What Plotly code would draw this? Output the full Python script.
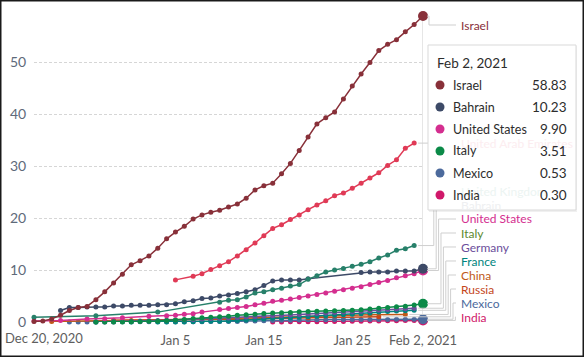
import plotly.graph_objects as go
import pandas as pd

# ---------------- data (doses per 100 people) ----------------
israel_start = "2020-12-20"
israel = [0.1, 0.2, 0.6, 1.3, 2.2, 2.8, 3.0, 4.3, 5.8, 7.5, 9.2, 11.0,
          11.8, 12.7, 14.2, 16.0, 17.3, 18.4, 19.8, 20.6, 21.1, 21.5, 22.1, 22.7,
          23.8, 25.4, 26.2, 26.7, 28.5, 30.5, 33.0, 35.6, 38.1, 39.3, 40.4, 42.9,
          45.4, 47.7, 49.9, 52.2, 53.4, 54.3, 55.8, 57.2, 58.83]

uae_start = "2021-01-05"
uae = [8.1, None, 8.8, 9.3, 10.1, 10.8, 11.6, 12.7, 13.9, 15.2, 16.6, 18.0, 18.7,
       19.7, 20.6, 21.6, 22.5, 23.3, 24.3, 24.8, 25.7, 26.7, 27.7, 28.7, 30.1,
       31.2, 33.4, 34.4]

uk_start = "2020-12-20"
uk = [0.9, None, None, None, None, None, None, 1.2, None, None, None, None, None, None,
      1.9, None, None, None, None, None, None, 3.8, 4.2, 4.3, 4.8, 5.6, 5.8, 6.2,
      6.5, 6.9, 7.2, 8.2, 8.9, 9.6, 10.0, 10.3, 10.7, 11.1, 11.6, 12.3, 12.9, 13.8,
      14.1, 14.7]

bahrain_start = "2020-12-23"
bahrain = [2.2, 2.8, 2.8, 2.9, 2.9, 2.9, 3.1, 3.1, 3.2,
           3.2, 3.2, 3.3, 3.3, 3.5, 3.9, 4.1, 4.5, 4.6, 5.0, 5.2, 5.5, 5.8, 6.2,
           7.0, 7.9, 8.1, 8.1, 8.1, 8.3, None, None, None, None, None,
           9.5, 9.6, 9.6, 9.6, 9.8, 9.8, 9.8, 10.23]

us_start = "2020-12-20"
us = [0.17, None, None, 0.3, None, None, 0.58, None, 0.64, None, 0.8, None,
      None, 1.1, None, 1.2, 1.3, 1.5, 1.6, 1.9, None, 2.4, 2.6, 2.8, 3.0, 3.3,
      3.6, 4.0, 4.2, 4.4, 4.7, 5.0, 5.3, 5.6, 5.9, 6.2, 6.5, 6.8, 7.2, 7.6, 8.0,
      8.5, 8.9, 9.3, 9.9]

italy_start = "2020-12-27"
italy = [0.01, 0.01, 0.02, 0.02, 0.05,
         0.08, 0.15, 0.2, 0.3, 0.4, 0.5, 0.65, 0.8, 0.9, 1.0, 1.1, 1.3, 1.4, 1.5,
         1.65, 1.75, 1.8, 1.85, 1.95, 2.0, 2.05, 2.1, 2.15, 2.2, 2.25, 2.35, 2.5,
         2.65, 2.8, 2.95, 3.05, 3.25, 3.51]

germany_start = "2020-12-27"
germany = [0.03, 0.05, 0.1, 0.12, 0.16,
           0.2, 0.24, 0.28, 0.32, 0.38, 0.45, 0.5, 0.6, 0.65, 0.7, 0.75, 0.85, 0.95,
           1.0, 1.1, 1.2, 1.25, 1.35, 1.45, 1.55, 1.65, 1.75, 1.85, 1.9, 1.95, 2.05,
           2.15, 2.3, 2.4, 2.5, 2.55, 2.65]

france_start = "2020-12-27"
france = [0.0, None, None, None, 0.0,
          None, None, 0.0, 0.01, 0.01, 0.02, 0.07, 0.1, 0.13, 0.15, 0.2, 0.3, 0.4,
          0.5, 0.6, 0.7, 0.75, 0.8, 0.9, 1.0, 1.1, 1.2, 1.3, 1.4, 1.5, 1.6, 1.75,
          1.9, 2.0, 2.1, 2.15, 2.25]

china_dates = ["2020-12-22", "2020-12-31", "2021-01-09", "2021-01-20", "2021-01-27", "2021-01-31"]
china = [0.1, 0.3, 0.6, 1.05, 1.4, 1.45]

russia_dates = ["2020-12-29", "2021-01-13", "2021-01-20", "2021-01-28"]
russia = [0.34, 0.55, 0.8, 1.0]

mexico_start = "2020-12-24"
mexico = [0.0, 0.0, 0.01, 0.01, 0.02, 0.02, 0.03, 0.03,
          0.03, 0.03, 0.04, 0.04, 0.04, 0.05, 0.06, 0.07, 0.08, 0.09, 0.1, 0.12,
          0.17, 0.21, 0.25, 0.3, 0.32, 0.35, 0.38, 0.41, 0.43, 0.45, 0.46, 0.46,
          0.47, 0.48, 0.49, 0.5, 0.5, 0.51, 0.51, 0.52, 0.53]

india_start = "2021-01-16"
india = [0.01, 0.02, 0.03, 0.05, 0.06, 0.07, 0.08, 0.1, 0.12, 0.15, 0.15, 0.17,
         0.2, 0.22, 0.26, 0.27, 0.28, 0.30]

x_tick_dates = ["2020-12-20", "2021-01-05", "2021-01-15", "2021-01-25", "2021-02-02"]
x_tick_text = ["Dec 20, 2020", "Jan 5", "Jan 15", "Jan 25", "Feb 2, 2021"]
y_tick_vals = [0, 10, 20, 30, 40, 50]
hover_title = "Feb 2, 2021"

def daily(start, vals):
    return list(pd.date_range(start, periods=len(vals))), vals

series = [
    ("Israel", *daily(israel_start, israel), "#883039", "#883039"),
    ("United Arab Emirates", *daily(uae_start, uae), "#e03a56", "#e03a56"),
    ("United Kingdom", *daily(uk_start, uk), "#27806a", "#27806a"),
    ("Bahrain", *daily(bahrain_start, bahrain), "#3d4a67", "#3d4a67"),
    ("United States", *daily(us_start, us), "#d42e8f", "#d42e8f"),
    ("Italy", *daily(italy_start, italy), "#0b8a48", "#5c8a30"),
    ("Germany", *daily(germany_start, germany), "#6b4e9b", "#6b4e9b"),
    ("France", *daily(france_start, france), "#00847e", "#00847e"),
    ("China", [pd.Timestamp(d) for d in china_dates], china, "#c05917", "#c05917"),
    ("Russia", [pd.Timestamp(d) for d in russia_dates], russia, "#c4461c", "#c4461c"),
    ("Mexico", *daily(mexico_start, mexico), "#4c6a9c", "#4c6a9c"),
    ("India", *daily(india_start, india), "#d0186a", "#d0186a"),
]

# ---------------- geometry helpers ----------------
FIG_W, FIG_H = 584, 357
L, R, T, B = 34, 161, 10, 35
PW = FIG_W - L - R
PH = FIG_H - T - B
Y_MAX = 60
X0, X1 = pd.Timestamp("2020-12-20"), pd.Timestamp("2021-02-02")

def px_x(px): return (px - L) / PW
def px_y(py): return 1 - (py - T) / PH
def date_px(d): return L + PW * (pd.Timestamp(d) - X0) / (X1 - X0)
def val_py(v): return T + PH * (1 - v / Y_MAX)

def fade(hexc, a=0.15):
    r, g, b = int(hexc[1:3], 16), int(hexc[3:5], 16), int(hexc[5:7], 16)
    f = lambda c: int(round(255 - (255 - c) * a))
    return "rgb(%d,%d,%d)" % (f(r), f(g), f(b))

FONT = "Lato, 'Open Sans', sans-serif"
fig = go.Figure()

# hover guide line
israel_end = israel[-1]
shapes = [dict(type="line", xref="x", yref="y", x0=X1, x1=X1, y0=0, y1=israel_end,
               line=dict(color="#cccccc", width=1), layer="below")]

# lines (draw small ones first)
for name, d, v, col, _ in reversed(series):
    fig.add_trace(go.Scatter(x=d, y=v, mode="lines+markers", connectgaps=True,
                             line=dict(color=col, width=1.5),
                             marker=dict(color=col, size=5),
                             hoverinfo="skip", showlegend=False, cliponaxis=False))

# last points
ends = []
for name, d, v, col, lcol in series:
    idx = max(i for i, x in enumerate(v) if x is not None)
    ends.append((name, d[idx], v[idx], col, lcol))

for name, ld, lv, col, _ in reversed(ends):
    if ld == X1:
        fig.add_trace(go.Scatter(x=[ld], y=[lv], mode="markers",
                                 marker=dict(color=col, size=10),
                                 hoverinfo="skip", showlegend=False, cliponaxis=False))

# label placement (avoid overlaps)
order = sorted(ends, key=lambda e: -e[2])
ideal = [val_py(e[2]) for e in order]
pos = ideal[:]
GAP, BOTTOM, TOP = 14, 317, 25
for i in range(len(pos) - 1, -1, -1):
    lim = BOTTOM if i == len(pos) - 1 else pos[i + 1] - GAP
    pos[i] = min(ideal[i], lim)
for i in range(len(pos)):
    lim = TOP if i == 0 else pos[i - 1] + GAP
    pos[i] = max(pos[i], lim)

# tooltip geometry
TT_X0, TT_Y0, TT_X1, TT_Y1 = 428, 45, 576, 210

annotations = []
LABEL_X, END_X = 459, 456
for k, ((name, ld, lv, col, lcol), ly) in enumerate(zip(order, pos)):
    sx = date_px(ld) + 4
    sy = val_py(lv)
    mx = 429 + 2.4 * k
    path = "M %f,%f H %f V %f H %f" % (px_x(sx), px_y(sy), px_x(mx), px_y(ly), px_x(END_X))
    shapes.append(dict(type="path", xref="paper", yref="paper", path=path,
                       line=dict(color="#cfcfcf", width=1)))
    covered = TT_Y0 <= ly <= TT_Y1 + 2
    annotations.append(dict(xref="paper", yref="paper", x=px_x(LABEL_X), y=px_y(ly),
                            text=name, showarrow=False, xanchor="left", yanchor="middle",
                            font=dict(family=FONT, size=12,
                                      color=fade(lcol, 0.09) if covered else lcol)))

# tooltip box
shapes.append(dict(type="rect", xref="paper", yref="paper",
                   x0=px_x(TT_X0 + 1), x1=px_x(TT_X1 + 1), y0=px_y(TT_Y1 + 2), y1=px_y(TT_Y0 + 1),
                   fillcolor="rgba(0,0,0,0.06)", line=dict(width=0)))
shapes.append(dict(type="rect", xref="paper", yref="paper",
                   x0=px_x(TT_X0), x1=px_x(TT_X1), y0=px_y(TT_Y1), y1=px_y(TT_Y0),
                   fillcolor="white", line=dict(color="#d9d9d9", width=1)))
annotations.append(dict(xref="paper", yref="paper", x=px_x(435), y=px_y(63),
                        text=hover_title, showarrow=False, xanchor="left", yanchor="middle",
                        font=dict(family=FONT, size=13.5, color="#2d2d2d")))
rows = [e for e in order if e[1] == X1]
for i, (name, ld, lv, col, _) in enumerate(rows):
    ry = 85 + 22 * i
    shapes.append(dict(type="circle", xref="paper", yref="paper", xsizemode="pixel",
                       ysizemode="pixel", xanchor=px_x(440), yanchor=px_y(ry),
                       x0=-4.5, x1=4.5, y0=-4.5, y1=4.5, fillcolor=col, line=dict(width=0)))
    annotations.append(dict(xref="paper", yref="paper", x=px_x(451), y=px_y(ry),
                            text=name, showarrow=False, xanchor="left", yanchor="middle",
                            font=dict(family=FONT, size=12.5, color="#2d2d2d")))
    annotations.append(dict(xref="paper", yref="paper", x=px_x(569), y=px_y(ry),
                            text="%.2f" % lv, showarrow=False, xanchor="right", yanchor="middle",
                            font=dict(family=FONT, size=13.5, color="#2d2d2d")))

# first x tick label kept inside the figure (left-aligned like the original)
annotations.append(dict(xref="paper", yref="paper", x=px_x(3), y=px_y(338),
                        text=x_tick_text[0], showarrow=False, xanchor="left", yanchor="middle",
                        font=dict(family=FONT, size=13, color="#5e5e5e")))

# figure frame
shapes.append(dict(type="rect", xref="paper", yref="paper",
                   x0=px_x(0.5), x1=px_x(FIG_W - 0.5), y0=px_y(FIG_H - 0.5), y1=px_y(0.5),
                   line=dict(color="#1a1a1a", width=2)))

fig.update_layout(
    width=FIG_W, height=FIG_H,
    margin=dict(l=L, r=R, t=T, b=B, pad=0),
    paper_bgcolor="white", plot_bgcolor="white",
    font=dict(family=FONT),
    shapes=shapes, annotations=annotations,
    xaxis=dict(range=[X0, X1], tickvals=[pd.Timestamp(d) for d in x_tick_dates[1:]],
               ticktext=x_tick_text[1:], showgrid=False, zeroline=False, showline=False,
               ticks="outside", ticklen=6, tickcolor="rgba(0,0,0,0)",
               tickfont=dict(family=FONT, size=13, color="#5e5e5e"), automargin=False),
    yaxis=dict(range=[0, Y_MAX], tickvals=y_tick_vals, showgrid=True,
               gridcolor="#d6d6d6", griddash="3px,2px", zeroline=False, showline=False,
               ticks="outside", ticklen=4, tickcolor="rgba(0,0,0,0)",
               tickfont=dict(family=FONT, size=14, color="#5e6a7a"), automargin=False),
)

fig.write_html("out.html")
